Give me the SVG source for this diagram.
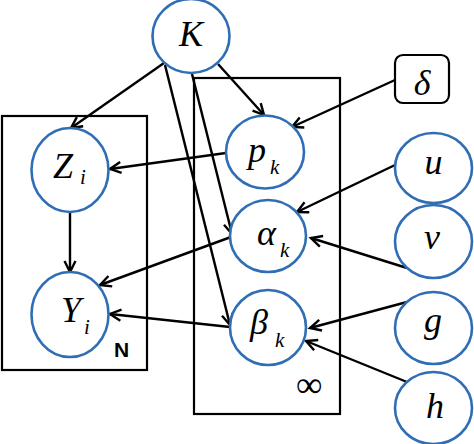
<svg xmlns="http://www.w3.org/2000/svg" width="474" height="444" viewBox="0 0 474 444">
<style>
.node{fill:#ffffff;stroke:#2F6EB5;stroke-width:2.6}
.plate{fill:none;stroke:#000;stroke-width:2.2}
.edge{stroke:#000;stroke-width:2.4;fill:none}
.lbl{font-family:"Liberation Serif",serif;font-style:italic;font-size:36px;fill:#000}
.sub{font-family:"Liberation Serif",serif;font-style:italic;font-size:21px;fill:#000}
</style>
<defs>
<marker id="arr" markerUnits="userSpaceOnUse" markerWidth="15" markerHeight="15" refX="12" refY="6.5" orient="auto" viewBox="0 0 15 13">
<path d="M1,1 L12,6.5 L1,12" fill="none" stroke="#000" stroke-width="2.4"/>
</marker>
</defs>
<rect x="0" y="0" width="474" height="444" fill="#ffffff"/>
<g id="plate-N">
<rect class="plate" x="2" y="116" width="145" height="254"/>
<text x="114" y="357" font-family="Liberation Sans,Arial,sans-serif" font-weight="bold" font-size="21">N</text>
</g>
<g id="plate-inf">
<rect class="plate" x="194" y="78" width="146" height="336"/>
<text x="296" y="397" font-family="Liberation Serif,serif" font-size="37">∞</text>
</g>
<g id="connectors">
<line class="edge" x1="164" y1="63" x2="71" y2="128" marker-end="url(#arr)"/>
<line class="edge" x1="218" y1="64" x2="264" y2="115" marker-end="url(#arr)"/>
<line class="edge" x1="192" y1="74" x2="232" y2="234" marker-end="url(#arr)"/>
<line class="edge" x1="165" y1="65" x2="230" y2="325" marker-end="url(#arr)"/>
<line class="edge" x1="395" y1="80" x2="292" y2="127" marker-end="url(#arr)"/>
<line class="edge" x1="395" y1="165" x2="297" y2="212" marker-end="url(#arr)"/>
<line class="edge" x1="407" y1="268" x2="311" y2="238" marker-end="url(#arr)"/>
<line class="edge" x1="407" y1="302" x2="310" y2="328" marker-end="url(#arr)"/>
<line class="edge" x1="407" y1="382" x2="306" y2="341" marker-end="url(#arr)"/>
<line class="edge" x1="226" y1="153" x2="110" y2="169" marker-end="url(#arr)"/>
<line class="edge" x1="231" y1="237" x2="100" y2="285" marker-end="url(#arr)"/>
<line class="edge" x1="230" y1="327" x2="110" y2="314" marker-end="url(#arr)"/>
<line class="edge" x1="70" y1="212" x2="70" y2="272" marker-end="url(#arr)"/>
</g>
<g id="node-K">
<ellipse class="node" cx="191" cy="36" rx="38.5" ry="37"/>
<text class="lbl" x="179" y="46">K</text>
</g>
<g id="node-Z">
<ellipse class="node" cx="70" cy="170" rx="38.5" ry="42"/>
<text class="lbl" x="53" y="178">Z</text>
<text class="sub" x="80" y="184">i</text>
</g>
<g id="node-Y">
<ellipse class="node" cx="70" cy="314.5" rx="38.5" ry="42.5"/>
<text class="lbl" x="61" y="322">Y</text>
<text class="sub" x="84" y="334">i</text>
</g>
<g id="node-p">
<ellipse class="node" cx="265" cy="152" rx="39" ry="36.5"/>
<text class="lbl" x="248" y="162">p</text>
<text class="sub" x="270" y="174">k</text>
</g>
<g id="node-alpha">
<ellipse class="node" cx="268" cy="236" rx="38" ry="36"/>
<text class="lbl" x="257" y="245">α</text>
<text class="sub" x="280" y="257">k</text>
</g>
<g id="node-beta">
<ellipse class="node" cx="268" cy="327.5" rx="38" ry="37.5"/>
<text class="lbl" x="250" y="334">β</text>
<text class="sub" x="275" y="347">k</text>
</g>
<g id="node-delta">
<rect x="395" y="55" width="54" height="48" rx="8" ry="8" fill="#fff" stroke="#000" stroke-width="2.2"/>
<text class="lbl" x="422" y="95" text-anchor="middle">δ</text>
</g>
<g id="node-u">
<ellipse class="node" cx="433.5" cy="168" rx="38.5" ry="35"/>
<text class="lbl" x="433.5" y="174" text-anchor="middle">u</text>
</g>
<g id="node-v">
<ellipse class="node" cx="433.5" cy="241.5" rx="38.5" ry="36.5"/>
<text class="lbl" x="432" y="249" text-anchor="middle">v</text>
</g>
<g id="node-g">
<ellipse class="node" cx="433.5" cy="328" rx="38.5" ry="36"/>
<text class="lbl" x="433" y="332" text-anchor="middle">g</text>
</g>
<g id="node-h">
<ellipse class="node" cx="433.5" cy="408" rx="38.5" ry="36"/>
<text class="lbl" x="435" y="418" text-anchor="middle">h</text>
</g>
</svg>
